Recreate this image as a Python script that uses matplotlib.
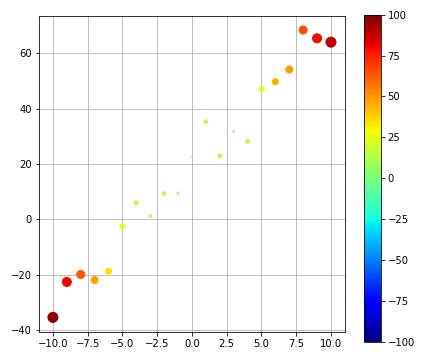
import matplotlib
matplotlib.use('Agg')
import matplotlib.pyplot as plt
import numpy as np

x = [-10, -9, -8, -7, -6, -5, -4, -3, -2, -1, 0, 1, 2, 3, 4, 5, 6, 7, 8, 9, 10]
y = [-35.4, -22.6, -19.9, -21.9, -18.7, -2.5, 6.0, 1.2, 9.4, 9.5, 22.7,
     35.3, 23.0, 31.8, 28.2, 47.2, 49.8, 54.2, 68.5, 65.5, 64.1]
# colour value per point
colors = [97, 80, 64, 48, 35, 24, 16, 9, 12, 4, 2, 11, 11, 5, 13, 22, 45, 49, 65, 80, 90]
# marker area per point
sizes = [100, 81, 64, 49, 36, 25, 16, 7, 12, 4, 1, 12, 14, 3, 15, 25, 36, 49, 64, 81, 100]

fig = plt.figure(figsize=(6, 5), dpi=72)
ax = fig.add_axes([0.0903, 0.0786, 0.708, 0.878])
cax = fig.add_axes([0.8426, 0.051, 0.0386, 0.908])

sc = ax.scatter(x, y, c=colors, s=sizes, cmap='jet', vmin=-100, vmax=100)
ax.grid(True)
ax.set_axisbelow(True)
fig.colorbar(sc, cax=cax)

fig.savefig('out.png', dpi=72)
